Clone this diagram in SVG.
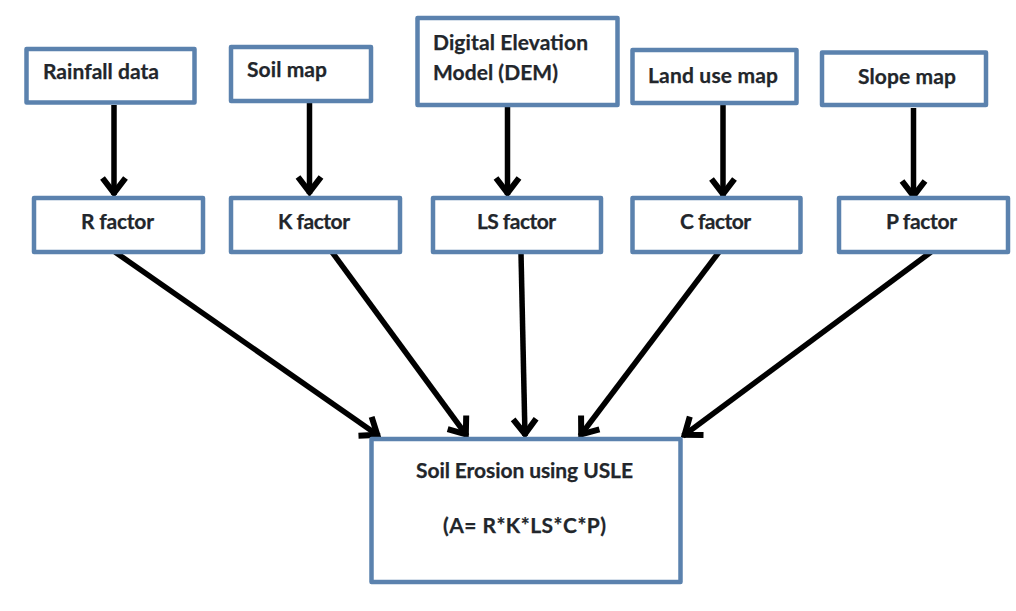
<svg xmlns="http://www.w3.org/2000/svg" width="1016" height="611" viewBox="0 0 1016 611">
<style>
.box{fill:#fff;stroke:#5b82ae;stroke-width:4.500;stroke-linejoin:round}
.lbl{font-family:"Lato","Carlito","Liberation Sans",sans-serif;font-weight:700;font-size:21px;fill:#22262b;stroke:#22262b;stroke-width:.25}
.arr{fill:none;stroke:#000;stroke-width:5.500;marker-end:url(#ah)}
</style>
<defs>
<marker id="ah" markerUnits="userSpaceOnUse" markerWidth="28" markerHeight="32" viewBox="-26 -16 28 32" refX="0" refY="0" orient="auto">
<path d="M-17 -11.500L-2 0L-17 11.500" fill="none" stroke="#000" stroke-width="6"/>
</marker>
</defs>
<rect width="1016" height="611" fill="#fff"/>
<g id="connectors">
<path class="arr" d="M114 105V195"/>
<path class="arr" d="M309.500 103V194"/>
<path class="arr" d="M507.500 107V195"/>
<path class="arr" d="M723 105V196"/>
<path class="arr" d="M913.500 108V198"/>
<path class="arr" d="M115 252L379 436"/>
<path class="arr" d="M332 252L467 436"/>
<path class="arr" d="M521 253L525 436"/>
<path class="arr" d="M719 252L580 436"/>
<path class="arr" d="M931 252L683 436"/>
</g>
<g id="rainfall"><rect class="box" x="26.500" y="49" width="168" height="53.500"/><text class="lbl" x="43" y="79" textLength="116">Rainfall data</text></g>
<g id="soil-map"><rect class="box" x="231" y="47" width="140" height="54"/><text class="lbl" x="247" y="76.500" textLength="80">Soil map</text></g>
<g id="dem"><rect class="box" x="417.500" y="18" width="200" height="87"/><text class="lbl" x="433" y="50" textLength="155">Digital Elevation</text><text class="lbl" x="433" y="80" textLength="125">Model (DEM)</text></g>
<g id="land-use"><rect class="box" x="632.500" y="50" width="164" height="53"/><text class="lbl" x="648" y="82.500" textLength="130">Land use map</text></g>
<g id="slope"><rect class="box" x="822" y="52.500" width="164" height="52.500"/><text class="lbl" x="858" y="83.500" textLength="98">Slope map</text></g>
<g id="r-factor"><rect class="box" x="34" y="198" width="169" height="54"/><text class="lbl" x="81" y="228.500" textLength="73">R factor</text></g>
<g id="k-factor"><rect class="box" x="231" y="198" width="169" height="54"/><text class="lbl" x="278" y="228.500" textLength="72">K factor</text></g>
<g id="ls-factor"><rect class="box" x="433" y="198" width="168" height="54"/><text class="lbl" x="477" y="228.500" textLength="79">LS factor</text></g>
<g id="c-factor"><rect class="box" x="632.500" y="198" width="168" height="54"/><text class="lbl" x="680" y="228.500" textLength="71">C factor</text></g>
<g id="p-factor"><rect class="box" x="839" y="198" width="169" height="54"/><text class="lbl" x="886" y="228.500" textLength="71">P factor</text></g>
<g id="usle"><rect class="box" x="371.500" y="439" width="309" height="143"/><text class="lbl" x="416" y="477.500" textLength="217">Soil Erosion using USLE</text><text class="lbl" x="443" y="533" textLength="163">(A= R*K*LS*C*P)</text></g>
</svg>
